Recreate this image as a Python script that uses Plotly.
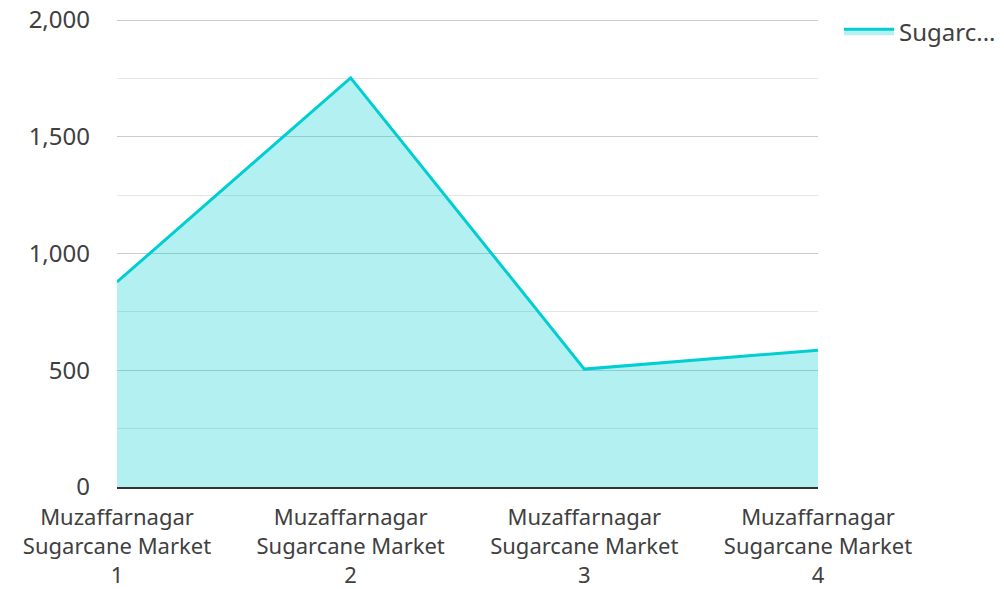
import plotly.graph_objects as go

categories = ["Muzaffarnagar<br>Sugarcane Market<br>1", "Muzaffarnagar<br>Sugarcane Market<br>2",
              "Muzaffarnagar<br>Sugarcane Market<br>3", "Muzaffarnagar<br>Sugarcane Market<br>4"]
values = [878, 1752, 505, 586]
series_name = "Sugarc..."
y_ticks = [0, 500, 1000, 1500, 2000]

font_family = "Noto Sans, Open Sans, sans-serif"
text_color = "#404040"

fig = go.Figure()
fig.add_trace(go.Scatter(
    x=categories, y=values, name=series_name, mode="lines",
    line=dict(color="#00CED1", width=3),
    fill="tozeroy", fillcolor="rgba(0,206,209,0.30)",
))

# page has an 8px body margin, so margins are offset to compensate
fig.update_layout(
    width=1004, height=589,
    margin=dict(l=109, r=194, t=10, b=110, autoexpand=False),
    paper_bgcolor="white", plot_bgcolor="white",
    font=dict(family=font_family, size=22, color=text_color),
    showlegend=True,
    legend=dict(x=1.03, y=1.019, xanchor="left", yanchor="top",
                font=dict(size=24, color=text_color), bgcolor="rgba(0,0,0,0)",
                itemwidth=50),
    xaxis=dict(
        type="category", range=[0, 3], showgrid=False, automargin=False,
        showline=True, linecolor="#333333", linewidth=2,
        ticks="", ticklabelstandoff=10, zeroline=False,
    ),
    yaxis=dict(
        range=[0, 2008.6], tickvals=y_ticks, tickformat=",", automargin=False,
        tickfont=dict(size=24), ticklabeloverflow="allow",
        showgrid=True, gridcolor="#cccccc", gridwidth=1,
        minor=dict(dtick=250, showgrid=True, gridcolor="#e6e6e6", gridwidth=1),
        showline=False, zeroline=False, ticks="", ticklabelstandoff=26,
    ),
)

fig.write_html("out.html")
